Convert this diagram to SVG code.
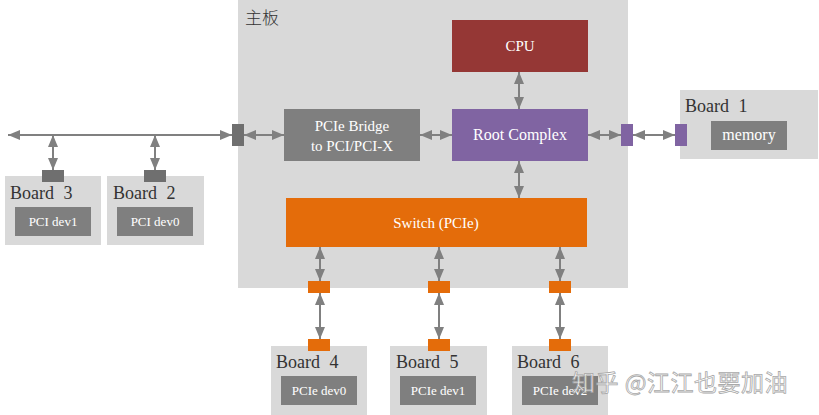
<svg xmlns="http://www.w3.org/2000/svg" width="819" height="415" viewBox="0 0 819 415">
<style>
.board{fill:#d9d9d9}
.gbox{fill:#7f7f7f}
.port-g{fill:#6f6f6f}
.port-p{fill:#8064a2}
.port-o{fill:#e46c0a}
.lbl{font-family:"Liberation Serif","DejaVu Serif",serif;font-size:18px;fill:#333;word-spacing:5px}
.t{font-family:"Liberation Serif","DejaVu Serif",serif;fill:#fff;text-anchor:middle}
.conn line{stroke:#808080;stroke-width:2;marker-start:url(#ah);marker-end:url(#ah)}
</style>
<defs>
<marker id="ah" markerUnits="userSpaceOnUse" markerWidth="12" markerHeight="10" refX="12" refY="5" orient="auto-start-reverse" viewBox="0 0 12 10">
<path d="M0,0 L12,5 L0,10 z" fill="#808080"/>
</marker>
</defs>
<rect width="819" height="415" fill="#fff"/>

<g id="mainboard">
<rect class="board" x="238" y="0" width="390" height="288"/>
<text x="245" y="24" style="font-family:'Noto Sans CJK SC',sans-serif;font-size:17px;fill:#333;font-weight:300">主板</text>
</g>

<g id="cpu">
<rect x="452" y="20" width="136" height="52" fill="#953735"/>
<text class="t" x="520" y="51" font-size="15">CPU</text>
</g>
<g id="root-complex">
<rect x="452" y="109" width="136" height="52" fill="#8064a2"/>
<text class="t" x="520" y="140" font-size="16">Root Complex</text>
</g>
<g id="bridge">
<rect class="gbox" x="284" y="109" width="136" height="52"/>
<text class="t" x="352" y="131" font-size="15">PCIe Bridge</text>
<text class="t" x="352" y="151" font-size="15">to PCI/PCI-X</text>
</g>
<g id="switch">
<rect x="286" y="198" width="301" height="49" fill="#e46c0a"/>
<text class="t" x="436" y="228" font-size="15">Switch (PCIe)</text>
</g>

<g id="ports">
<rect class="port-g" x="232" y="124" width="12" height="22"/>
<rect class="port-p" x="621" y="124" width="12" height="22"/>
<rect class="port-o" x="308" y="281" width="22" height="12"/>
<rect class="port-o" x="428" y="281" width="22" height="12"/>
<rect class="port-o" x="549" y="281" width="22" height="12"/>
</g>

<g id="board1">
<rect class="board" x="680" y="90" width="138" height="69"/>
<text class="lbl" x="685" y="112">Board 1</text>
<rect class="gbox" x="711" y="121" width="76" height="29"/>
<text class="t" x="749" y="140" font-size="16">memory</text>
<rect class="port-p" x="675" y="124" width="12" height="22"/>
</g>

<g id="board3">
<rect class="board" x="5" y="176" width="96" height="69"/>
<text class="lbl" x="10" y="199">Board 3</text>
<rect class="gbox" x="15" y="207" width="76" height="29"/>
<text class="t" x="53" y="226" font-size="13">PCI dev1</text>
<rect class="port-g" x="42" y="170" width="22" height="12"/>
</g>
<g id="board2">
<rect class="board" x="107" y="176" width="97" height="69"/>
<text class="lbl" x="113" y="199">Board 2</text>
<rect class="gbox" x="117" y="207" width="76" height="29"/>
<text class="t" x="155" y="226" font-size="13">PCI dev0</text>
<rect class="port-g" x="144" y="170" width="22" height="12"/>
</g>

<g id="board4">
<rect class="board" x="271" y="346" width="96" height="69"/>
<text class="lbl" x="276" y="368">Board 4</text>
<rect class="gbox" x="281" y="376" width="76" height="29"/>
<text class="t" x="319" y="395" font-size="13">PCIe dev0</text>
<rect class="port-o" x="308" y="339" width="22" height="12"/>
</g>
<g id="board5">
<rect class="board" x="390" y="346" width="97" height="69"/>
<text class="lbl" x="396" y="368">Board 5</text>
<rect class="gbox" x="400" y="376" width="76" height="29"/>
<text class="t" x="438" y="395" font-size="13">PCIe dev1</text>
<rect class="port-o" x="428" y="339" width="22" height="12"/>
</g>
<g id="board6">
<rect class="board" x="512" y="346" width="96" height="69"/>
<text class="lbl" x="517" y="368">Board 6</text>
<rect class="gbox" x="522" y="376" width="76" height="29"/>
<text class="t" x="560" y="395" font-size="13">PCIe dev2</text>
<rect class="port-o" x="549" y="339" width="22" height="12"/>
</g>

<g id="connectors" class="conn">
<line x1="8" y1="135" x2="232" y2="135"/>
<line x1="53" y1="135" x2="53" y2="170"/>
<line x1="155" y1="135" x2="155" y2="170"/>
<line x1="244" y1="135" x2="284" y2="135"/>
<line x1="420" y1="135" x2="452" y2="135"/>
<line x1="588" y1="135" x2="621" y2="135"/>
<line x1="633" y1="135" x2="675" y2="135"/>
<line x1="519" y1="72" x2="519" y2="109"/>
<line x1="519" y1="161" x2="519" y2="198"/>
<line x1="320" y1="247" x2="320" y2="281"/>
<line x1="439" y1="247" x2="439" y2="281"/>
<line x1="560" y1="247" x2="560" y2="281"/>
<line x1="320" y1="293" x2="320" y2="339"/>
<line x1="439" y1="293" x2="439" y2="339"/>
<line x1="560" y1="293" x2="560" y2="339"/>
</g>

<text x="572" y="391" style="font-family:'Noto Sans CJK SC',sans-serif;font-size:23px;letter-spacing:0.5px;fill:#fff;stroke:#a0a0a0;stroke-width:0.8;opacity:0.9">知乎 @江江也要加油</text>
</svg>
